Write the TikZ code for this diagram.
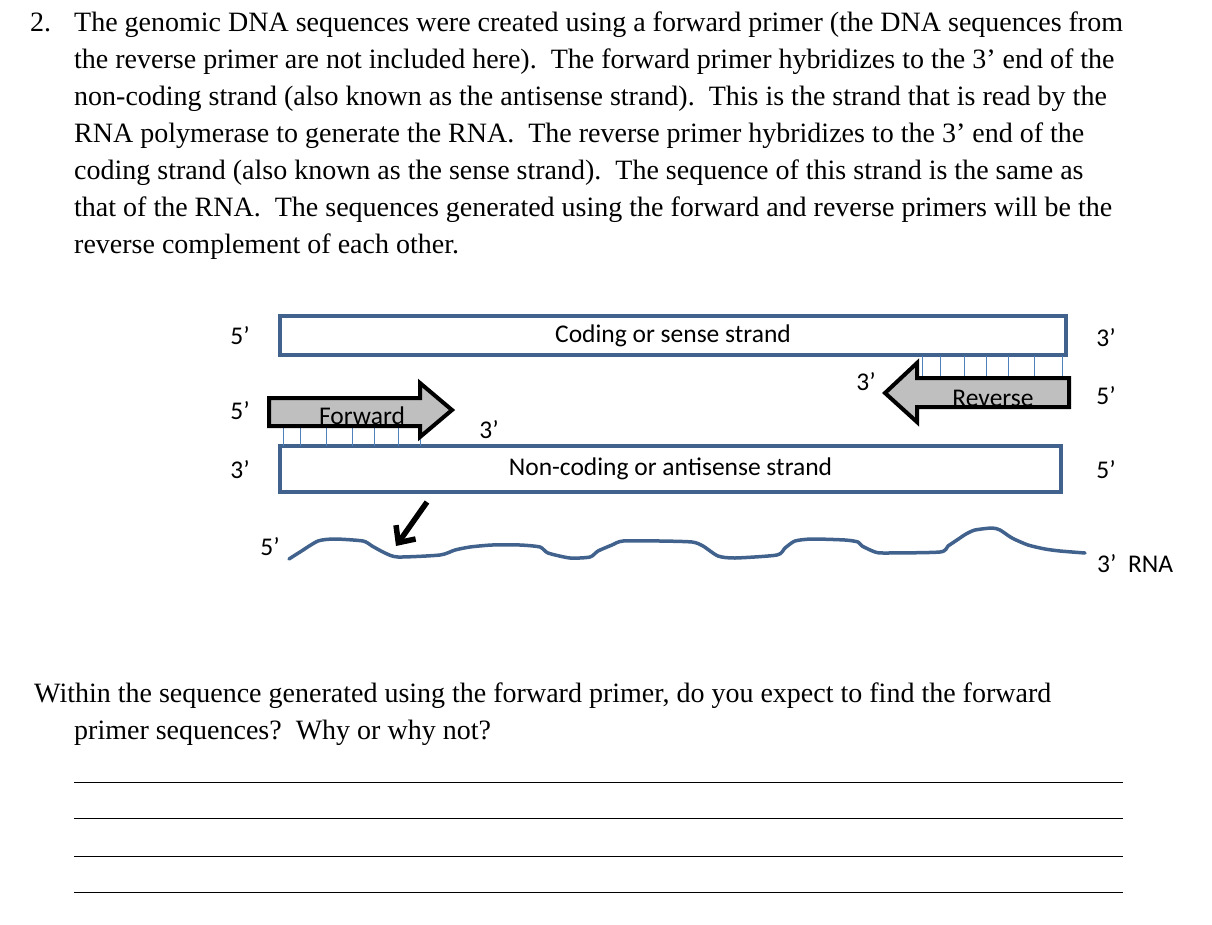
\documentclass[tikz,border=0pt]{standalone}
\usepackage{fontspec}
\usetikzlibrary{arrows.meta}
\setmainfont{Liberation Serif}
\newfontfamily\calfont{Carlito}
\begin{document}
\begin{tikzpicture}[x=1pt,y=-1pt]
\definecolor{dblue}{RGB}{65,98,140}
\definecolor{tblue}{RGB}{79,129,189}
\tikzset{strand/.style={draw=dblue,line width=3.5pt},
 primer/.style={draw=black,fill=black!25,line width=4pt,line join=miter},
 lbl/.style={font=\calfont\fontsize{25.5}{28}\selectfont,inner sep=0pt},
 body/.style={font=\fontsize{28}{32}\selectfont,anchor=base west,inner sep=0pt},
 tick/.style={draw=tblue,line width=1pt}}
\useasboundingbox (0,0) rectangle (1212,924);
\node[body] (n2) at (30,31) {2.};
\foreach \t [count=\i] in {The genomic DNA sequences were created using a forward primer (the DNA sequences from,
 the reverse primer are not included here).\ \ The forward primer hybridizes to the 3’ end of the,
 non-coding strand (also known as the antisense strand).\ \ This is the strand that is read by the,
 RNA polymerase to generate the RNA.\ \ The reverse primer hybridizes to the 3’ end of the,
 coding strand (also known as the sense strand).\ \ The sequence of this strand is the same as,
 that of the RNA.\ \ The sequences generated using the forward and reverse primers will be the,
 reverse complement of each other.}
 \node[body] (t\i) at (74,31+37*\i-37) {\t};
\node[rectangle,strand,minimum width=786,minimum height=39,lbl] (cod) at (673,335.5) {Coding or sense strand};
\node[rectangle,strand,minimum width=781,minimum height=46,lbl] (non) at (670.5,469) {Non-coding or antisense strand};
\foreach \x in {283,300,326,352,374,398,420} \draw[tick] (\x,426) -- (\x,446);
\foreach \x in {922,940,964,986,1008,1034,1062} \draw[tick] (\x,356) -- (\x,378);
\draw[primer] (269,398) -- (420,398) -- (420,383) -- (452,410) -- (420,437) -- (420,426) -- (269,426) -- cycle;
\draw[primer] (1069,378) -- (917,378) -- (917,363) -- (885,393) -- (917,422) -- (917,407) -- (1069,407) -- cycle;
\node[lbl] (fw) at (362,416) {Forward};
\node[lbl] (rv) at (993,398) {Reverse};
\node[lbl] (a) at (240,336) {5’};
\node[lbl] (b) at (240,411) {5’};
\node[lbl] (c) at (240,470) {3’};
\node[lbl] (d) at (1106,338) {3’};
\node[lbl] (e) at (1106,396) {5’};
\node[lbl] (f) at (1106,470) {5’};
\node[lbl] (g) at (866,382) {3’};
\node[lbl] (h) at (489,430) {3’};
\node[lbl] (i) at (270,547) {5’};
\node[lbl,anchor=west] (j) at (1097,564) {3’\ \ RNA};
\draw[dblue,line width=3.5pt,line join=round,line cap=round] plot[smooth,tension=0.4] coordinates {(289,559)(300,552)(318,541)(335,539)(363,541)(372,546)(385,553)(398,557)(440,555)(455,550)(470,547)(492,545)(520,545)(540,547)(548,553)(570,558)(590,557)(598,551)(612,545)(623,541)(660,541)(692,542)(703,546)(718,556)(735,558)(777,555)(785,548)(795,541)(812,539)(845,540)(858,542)(862,546)(875,552)(885,553)(940,552)(948,546)(957,540)(966,534)(975,530)(992,528)(1000,530)(1012,538)(1028,545)(1045,549)(1060,551)(1085,553)};
\coordinate (as) at (427,502); \coordinate (ae) at (396,546);
\draw[line width=5.5pt,-{Straight Barb[length=13pt,width=24pt,line width=5.5pt]}] (as) -- (ae);
\node[body] (q1) at (34,702) {Within the sequence generated using the forward primer, do you expect to find the forward};
\node[body] (q2) at (74,739) {primer sequences?\ \ Why or why not?};
\foreach \y in {782,818,856,892} \draw[line width=0.8pt] (74,\y) -- (1123,\y);
\end{tikzpicture}
\end{document}
